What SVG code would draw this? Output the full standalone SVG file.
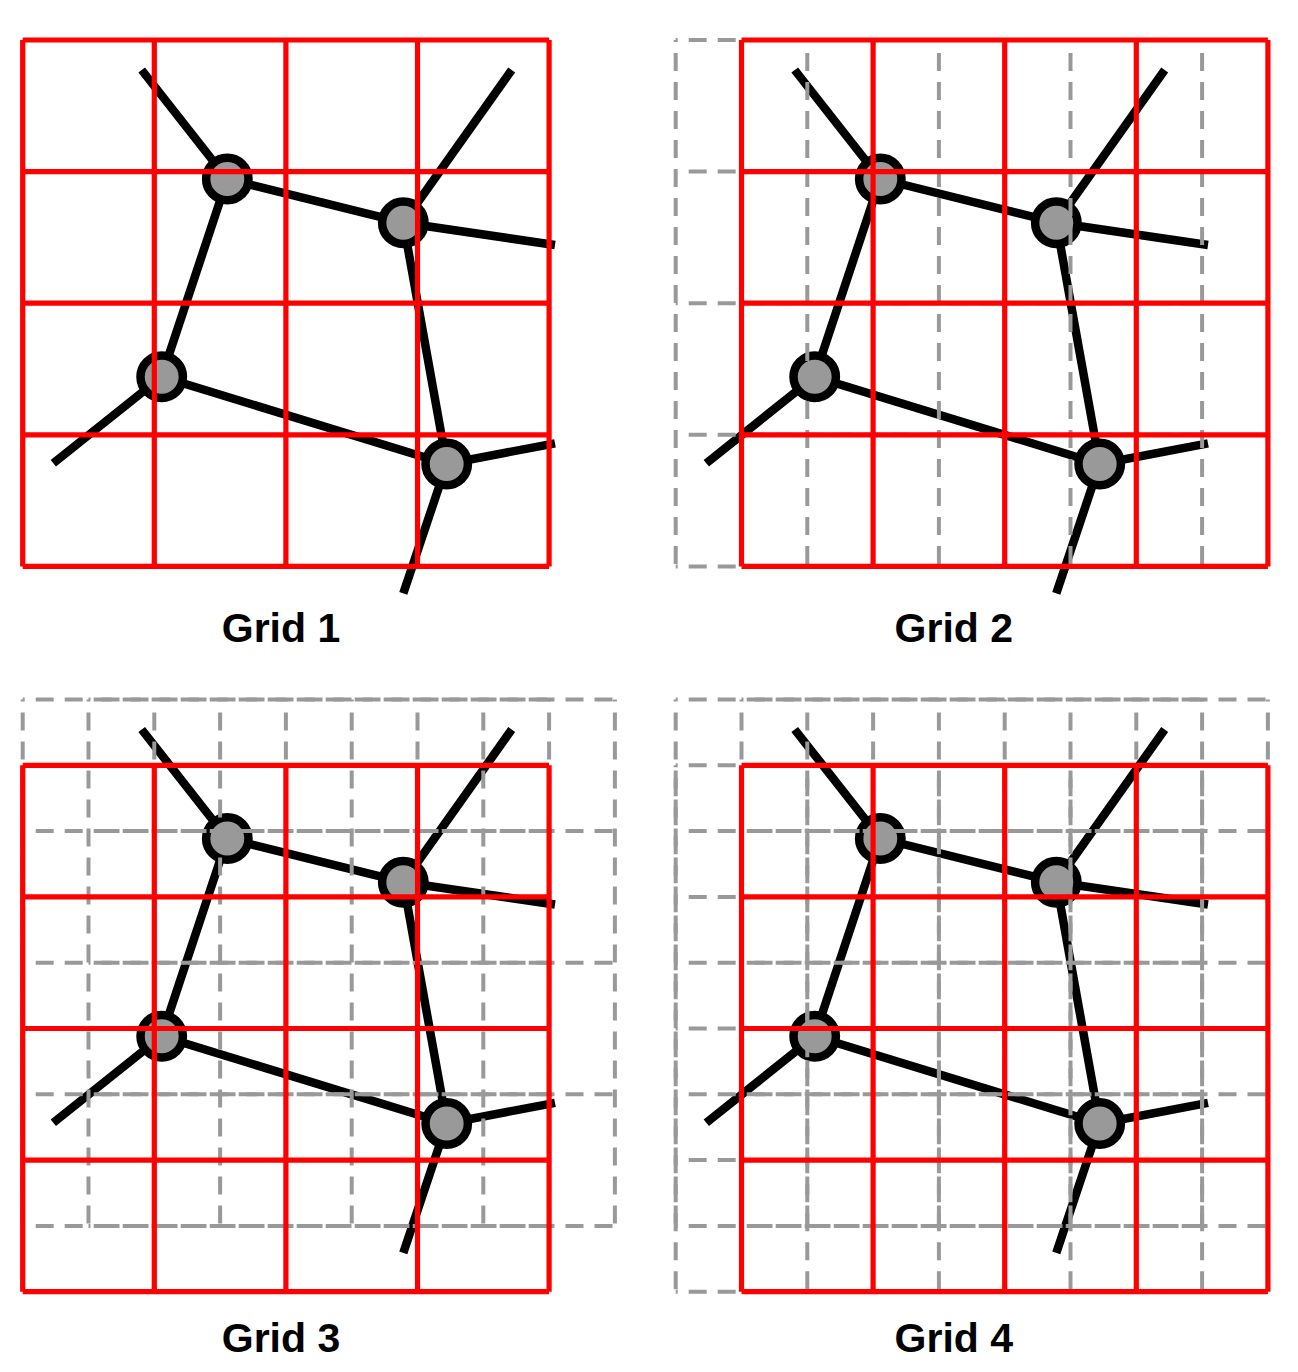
<svg xmlns="http://www.w3.org/2000/svg" xmlns:xlink="http://www.w3.org/1999/xlink" width="1298" height="1372" viewBox="0 0 1298 1372">
<style>
.edge{stroke:#000;stroke-width:8.5;fill:none;stroke-linecap:butt}
.node{fill:#999;stroke:#000;stroke-width:8.5}
.dash{stroke:#999;stroke-width:4;fill:none;stroke-dasharray:18 11;stroke-dashoffset:16}
.red{stroke:#ff0000;stroke-width:5.2;fill:none}
.label{font-family:"Liberation Sans",Arial,sans-serif;font-weight:bold;font-size:41px;text-anchor:middle;fill:#000}
</style>
<defs>
<path id="grid" d="M0,0V526.4M131.6,0V526.4M263.2,0V526.4M394.8,0V526.4M526.4,0V526.4M0,0H526.4M0,131.6H526.4M0,263.2H526.4M0,394.8H526.4M0,526.4H526.4"/>
</defs>
<rect width="1298" height="1372" fill="#fff"/>

<!-- Panel 1 -->
<g id="panel1">
  <g id="p1-connectors">
    <path class="edge" d="M141.7,70L227.3,179M511.7,70L403.3,222.7M555,245L403.3,222.7M53.3,463.3L161.7,376.7M555,443.3L446.7,464M403.3,593.3L446.7,464M227.3,179L403.3,222.7M227.3,179L161.7,376.7M403.3,222.7L446.7,464M161.7,376.7L446.7,464"/>
  </g>
  <g id="p1-nodeA"><circle class="node" cx="227.3" cy="179" r="21.2"/></g>
  <g id="p1-nodeB"><circle class="node" cx="403.3" cy="222.7" r="21.2"/></g>
  <g id="p1-nodeC"><circle class="node" cx="161.7" cy="376.7" r="21.2"/></g>
  <g id="p1-nodeD"><circle class="node" cx="446.7" cy="464" r="21.2"/></g>
  <use xlink:href="#grid" class="red" x="22.7" y="40"/>
  <text class="label" x="281" y="641.5">Grid 1</text>
</g>

<!-- Panel 2 -->
<g id="panel2" transform="translate(653,0)">
  <g id="p2-connectors">
    <path class="edge" d="M141.7,70L227.3,179M511.7,70L403.3,222.7M555,245L403.3,222.7M53.3,463.3L161.7,376.7M555,443.3L446.7,464M403.3,593.3L446.7,464M227.3,179L403.3,222.7M227.3,179L161.7,376.7M403.3,222.7L446.7,464M161.7,376.7L446.7,464"/>
  </g>
  <g id="p2-nodeA"><circle class="node" cx="227.3" cy="179" r="21.2"/></g>
  <g id="p2-nodeB"><circle class="node" cx="403.3" cy="222.7" r="21.2"/></g>
  <g id="p2-nodeC"><circle class="node" cx="161.7" cy="376.7" r="21.2"/></g>
  <g id="p2-nodeD"><circle class="node" cx="446.7" cy="464" r="21.2"/></g>
  <use xlink:href="#grid" class="dash" x="22.7" y="40"/>
  <use xlink:href="#grid" class="red" x="88.5" y="40"/>
  <text class="label" x="300.8" y="641.5">Grid 2</text>
</g>

<!-- Panel 3 -->
<g id="panel3" transform="translate(0,659.5)">
  <g id="p3-connectors">
    <path class="edge" d="M141.7,70L227.3,179M511.7,70L403.3,222.7M555,245L403.3,222.7M53.3,463.3L161.7,376.7M555,443.3L446.7,464M403.3,593.3L446.7,464M227.3,179L403.3,222.7M227.3,179L161.7,376.7M403.3,222.7L446.7,464M161.7,376.7L446.7,464"/>
  </g>
  <g id="p3-nodeA"><circle class="node" cx="227.3" cy="179" r="21.2"/></g>
  <g id="p3-nodeB"><circle class="node" cx="403.3" cy="222.7" r="21.2"/></g>
  <g id="p3-nodeC"><circle class="node" cx="161.7" cy="376.7" r="21.2"/></g>
  <g id="p3-nodeD"><circle class="node" cx="446.7" cy="464" r="21.2"/></g>
  <use xlink:href="#grid" class="dash" x="22.7" y="40"/>
  <use xlink:href="#grid" class="dash" x="88.5" y="40"/>
  <use xlink:href="#grid" class="red" x="22.7" y="105.8"/>
  <text class="label" x="281" y="692.5">Grid 3</text>
</g>

<!-- Panel 4 -->
<g id="panel4" transform="translate(653,659.5)">
  <g id="p4-connectors">
    <path class="edge" d="M141.7,70L227.3,179M511.7,70L403.3,222.7M555,245L403.3,222.7M53.3,463.3L161.7,376.7M555,443.3L446.7,464M403.3,593.3L446.7,464M227.3,179L403.3,222.7M227.3,179L161.7,376.7M403.3,222.7L446.7,464M161.7,376.7L446.7,464"/>
  </g>
  <g id="p4-nodeA"><circle class="node" cx="227.3" cy="179" r="21.2"/></g>
  <g id="p4-nodeB"><circle class="node" cx="403.3" cy="222.7" r="21.2"/></g>
  <g id="p4-nodeC"><circle class="node" cx="161.7" cy="376.7" r="21.2"/></g>
  <g id="p4-nodeD"><circle class="node" cx="446.7" cy="464" r="21.2"/></g>
  <use xlink:href="#grid" class="dash" x="22.7" y="40"/>
  <use xlink:href="#grid" class="dash" x="88.5" y="40"/>
  <use xlink:href="#grid" class="dash" x="22.7" y="105.8"/>
  <use xlink:href="#grid" class="red" x="88.5" y="105.8"/>
  <text class="label" x="300.8" y="692.5">Grid 4</text>
</g>
</svg>
